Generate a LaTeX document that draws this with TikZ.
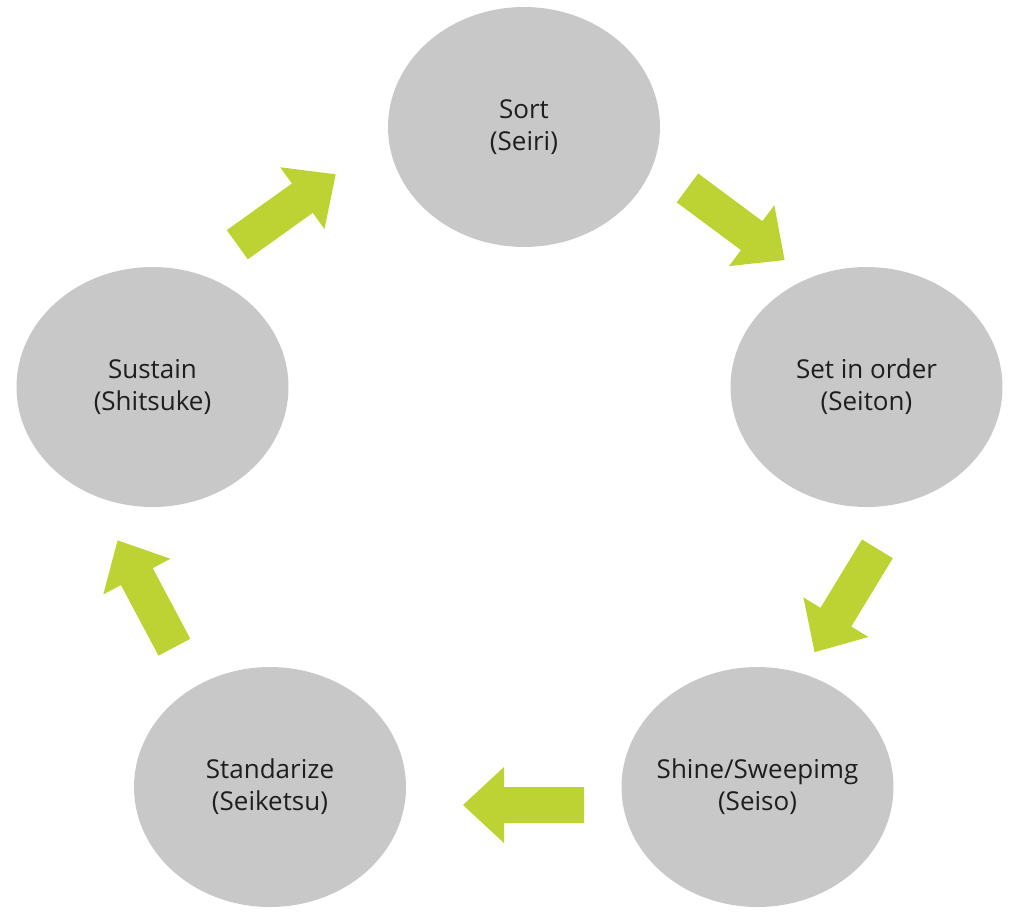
\documentclass[tikz,border=0pt]{standalone}
\usepackage{fontspec}
\setmainfont{Open Sans}
\usetikzlibrary{shapes.geometric, positioning}

\definecolor{stepgray}{RGB}{200,200,200}
\definecolor{arrowgreen}{RGB}{189,210,51}
\definecolor{textdark}{RGB}{30,30,30}

\begin{document}
\begin{tikzpicture}[
    x=0.02cm, y=0.02cm,
    stepnode/.style={ellipse, fill=stepgray, minimum width=5.44cm, minimum height=4.8cm, inner xsep=-8pt, inner ysep=0pt, text=textdark, align=center, font=\fontsize{14.8}{18.3}\selectfont},
    cyclearrow/.pic={\fill[arrowgreen] (-60.5,-18) -- (19.5,-18) -- (19.5,-38) -- (60.5,0) -- (19.5,38) -- (19.5,18) -- (-60.5,18) -- cycle;}
]
    \useasboundingbox (0,0) rectangle (1024,-914);

    % Sort
    \node[stepnode] (sort) at (524,-127) {Sort\\(Seiri)};

    % Set in order
    \node[stepnode] (order) at (866.5,-387) {Set in order\\(Seiton)};

    % Shine
    \node[stepnode] (shine) at (757.5,-787) {Shine/Sweepimg\\(Seiso)};

    % Standardize
    \node[stepnode] (standard) at (270,-787) {Standarize\\(Seiketsu)};

    % Sustain
    \node[stepnode] (sustain) at (152.5,-387) {Sustain\\(Shitsuke)};

    % Arrows
    \pic[rotate=35.6] (sortarrow) at (286.5,-209.5) {cyclearrow};
    \pic[rotate=-36.6] (orderarrow) at (736,-224) {cyclearrow};
    \pic[rotate=-121.3] (shinearrow) at (846,-600.5) {cyclearrow};
    \pic[rotate=180] (standardarrow) at (523.5,-805) {cyclearrow};
    \pic[rotate=118] (sustainarrow) at (146,-593.8) {cyclearrow};
\end{tikzpicture}
\end{document}
